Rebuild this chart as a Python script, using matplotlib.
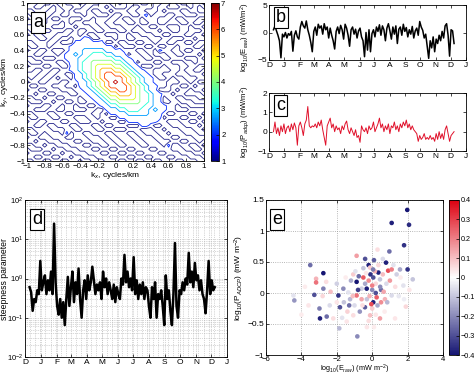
import numpy as np
import matplotlib
matplotlib.use('Agg')
import matplotlib.pyplot as plt
from matplotlib.colors import LinearSegmentedColormap, Normalize
from matplotlib.cm import ScalarMappable
from matplotlib.ticker import MultipleLocator, LogLocator, NullFormatter

################################################################################
# データ
################################################################################
# (a) 2次元スペクトル：41x41 格子（1桁 = 1段階, 0.05 cycles/km 間隔）
k_axis = np.linspace(-1, 1, 41)
# 背景のノイズ状の値（上の行が k_y = 1）
spec_background = [
    "01100010011101000110010111001001101000110",
    "11001101000110011101000100111011000110101",
    "00111001101000100110111001100010111001100",
    "10010011001110110001001100120111001100011",
    "01110100110001101110010011011100010011100",
    "11000111010110001100111001001100111001001",
    "00101100011011100110001110110011000110110",
    "10110011100100110011100100011101100110001",
    "01001110001101001100011011000110011100110",
    "11100100110110000111011001110001100011011",
    "00111001000111011000100110011011001100100",
    "10011011110001100111010001100100110111001",
    "01100100011100110001001110011021100100110",
    "11001110100110001110110011001000110011101",
    "00110001110011011001100011100110011100010",
    "10001110011100110110001100111001100011011",
    "01110011000110001101110011000110111001100",
    "11001100111001110001101110011000011011001",
    "00011001100111000111000110111001110001110",
    "10110010110010011011100110001100101100011",
    "01100111001101100100111001100111000110100",
    "10011100011000110111001100110011011001011",
    "01100111000110011000110011011100010110110",
    "11011001110011001110011011000111101100001",
    "00110110011101100011100110011000110011100",
    "10001101100100111000111001101110011000111",
    "01110011011011001110001100110001110110000",
    "11000110011000110011100111001100110001111",
    "00111001100111100100111000110111001110010",
    "10011100111000110110001110011000111001101",
    "01100111001100011011100011100111000110010",
    "11001001110011100100111000111001100011101",
    "00111100011001110011000111000110111000110",
    "10010111020110011100111001100011011100011",
    "01100011100111000110011100111001100111000",
    "11011000111001100011001110011100011001101",
    "00110110001110011001100111001110200110010",
    "10001101100011100110011001110011100011001",
    "01110011011000111001100110011100111000110",
    "11001100110110001110011001100111001110001",
    "00110011001101100011100110011001110011100",
]
# 中心の楕円部分：(行, 開始列, 値)
spec_core = [
    (9, 13, "22"),
    (10, 11, "2222222"),
    (11, 10, "2222222222"),
    (12, 10, "222333332222"),
    (13, 9, "22323344433222"),
    (14, 9, "222334444443322"),
    (15, 10, "223445555544322"),
    (16, 10, "2234456666554322"),
    (17, 10, "22344567776654322"),
    (18, 11, "22345678877654322"),
    (19, 11, "223456788887654322"),
    (20, 12, "22345678987654322"),
    (21, 12, "223456788887654322"),
    (22, 13, "22345677887654322"),
    (23, 14, "22345667776544322"),
    (24, 15, "2234556666544322"),
    (25, 16, "223445555544322"),
    (26, 17, "223344444433222"),
    (27, 18, "22233444332322"),
    (28, 19, "222233333222"),
    (29, 21, "2222222222"),
    (30, 23, "2222222"),
    (31, 26, "22"),
]

# (b)(c)(d) 時系列（12月1日からの日数）
days = np.arange(9, 373, 3)
month_days = [0, 31, 62, 90, 121, 151, 182, 212, 243, 274, 304, 335, 365, 396]
month_labels = ['D', 'J', 'F', 'M', 'A', 'M', 'J', 'J', 'A', 'S', 'O', 'N', 'D', 'J']

e_raw = [0.5, 1.2, 0.3, -0.5, -1.5, -4.6, -0.3, -0.8, 0.0, -1.0,
         -0.2, -0.5, 0.2, -3.4, -0.5, 0.3, -0.8, -1.2, 1.0, 2.0,
         1.2, 0.8, 2.1, 0.5, -0.5, -1.8, -3.5, 0.2, 1.0, -0.5,
         1.5, 0.8, 1.2, -0.3, 1.6, 0.5, 1.0, -1.0, 0.8, -0.5,
         -1.5, -3.0, 0.2, 1.0, -0.2, 1.3, 0.5, -1.2, 1.5, 0.8,
         -0.5, -2.5, 0.5, 1.0, -0.3, 0.6, -1.0, 0.3, 0.8, -0.8,
         -1.5, -4.4, 0.0, -3.2, 0.5, -3.5, -0.2, 0.5, -0.8, 1.0,
         0.2, 1.4, -0.5, 1.2, 0.5, -1.5, 0.8, 1.6, 0.3, -1.2,
         1.0, -0.3, 1.2, -2.0, 0.6, 1.0, -0.5, 1.5, 0.2, 0.9,
         -0.8, 0.5, -0.3, 1.1, -1.0, 0.3, 0.8, -0.5, 2.0, 1.0,
         0.4, -1.0, -0.3, -2.5, -4.7, -1.5, -2.8, -0.8, -3.5, -1.2,
         -2.0, -0.5, -1.5, 0.2, -1.0, 1.2, 1.6, -0.5, -4.3, 0.5,
         0.3, -2.0]

p_adcp = [0.0, 0.5, -0.1, 0.2, -0.2, 0.3, 0.0, 0.4, -0.1, 0.2,
          0.3, 0.0, 0.4, 0.1, 0.45, 0.2, -0.7, 0.3, 0.5, 0.2,
          -0.2, 0.4, 0.6, 1.3, 0.3, 0.2, 0.3, 0.25, 0.4, 0.2,
          0.5, 0.3, 0.6, 0.1, -0.3, -0.7, 0.3, 0.5, 0.7, 0.2,
          0.4, 0.0, 0.3, 0.1, 0.2, -0.1, 0.3, 0.1, 0.4, 0.55,
          0.1, -0.1, 0.2, 0.0, -0.2, 0.1, -0.3, -0.2, -0.55, 0.3,
          0.1, 0.0, 0.2, -0.1, 0.3, 0.1, 0.2, 0.5, 0.0, 0.2,
          0.4, 0.7, 0.2, 0.4, 0.0, 0.3, 0.1, 0.4, -0.1, 0.3,
          0.2, 0.5, 0.1, 0.3, 0.0, 0.4, 0.2, 0.5, 0.3, 0.6,
          0.2, 0.4, 0.1, 0.3, 0.1, 0.0, -0.1, -0.5, -0.2, -0.4,
          -0.3, -0.1, -0.4, -0.3, -0.4, -0.2, -0.4, -0.3, -0.5, -0.1,
          -0.4, 0.0, -0.35, -0.1, -0.4, 0.1, 0.3, -0.1, -0.5, -0.2,
          -0.1, 0.0]

steepness = [0.6, 0.45, 0.15, 0.3, 0.25, 0.5, 0.4, 2.8, 0.5, 0.8,
             1.2, 0.4, 0.9, 0.5, 1.5, 0.4, 25, 0.8, 0.2, 0.12,
             0.3, 0.1, 0.25, 0.065, 0.3, 1.1, 0.2, 0.6, 1.5, 0.25,
             0.8, 0.4, 1.8, 0.3, 0.1, 0.5, 0.9, 0.3, 1.2, 0.5,
             0.8, 2.0, 0.9, 0.4, 0.7, 0.5, 0.8, 0.3, 1.5, 0.6,
             1.0, 0.4, 0.8, 0.5, 0.3, 0.7, 0.25, 0.6, 0.4, 0.3,
             1.0, 0.7, 4.0, 0.8, 1.5, 0.6, 1.0, 0.5, 3.5, 0.4,
             0.9, 0.3, 0.7, 0.4, 0.8, 0.3, 0.6, 0.5, 0.2, 0.1,
             0.6, 0.3, 0.8, 0.1, 0.4, 0.3, 0.5, 0.2, 0.065, 1.2,
             0.3, 0.5, 0.15, 0.065, 0.4, 8.0, 0.2, 0.1, 0.5, 0.4,
             0.8, 0.5, 1.0, 0.7, 4.5, 0.8, 1.5, 0.6, 2.5, 0.9,
             1.2, 0.5, 0.9, 0.4, 0.3, 0.13, 0.5, 2.8, 0.4, 0.9,
             0.5, 0.6]

# (e) 散布図
sc_x = [1.98, 1.10, 2.08, 1.80, 0.97, 0.30, 2.00, 1.57, 0.78, 0.10,
        -0.20, -2.76, -3.50, -3.17, -3.17, -2.76, -3.27, -4.45, -4.40, -2.98,
        -2.95, -2.57, -1.86, -0.84, -0.88, -0.76, -0.12, 0.06, 0.35, 0.44,
        0.90, 1.10, 1.38, 2.29, 1.76, 1.90, 1.29, 0.06, -0.41, -1.25,
        -1.82, -1.63, -1.91, -2.35, -1.35, -0.88, -0.31, -0.60, 0.25, 0.72,
        1.10, -0.12, 0.44, -1.07, -2.20, -1.44, -0.50, -1.07, -0.88, -0.40,
        -0.20, 0.00, 0.20, 0.50, 0.60, 0.80, -0.60, -0.30, 0.00, 0.30,
        -1.00, -1.40, -1.60, -2.00, -2.40, -0.70, -0.20, 0.20, 0.70, 1.00,
        1.30, 1.50, -0.10, 0.15, -0.50, -1.20, -1.50, -2.00, -2.60, -3.80,
        -3.60, -4.00, -0.30, 0.10, 0.50, 0.00, 0.35, 0.60, -0.40, 0.20,
        -0.80, -1.10, 1.60, 1.80, 2.10, -0.15, 0.45, -0.55, 0.85, -1.30,
        -0.95, 0.05, -2.80, -1.70, -0.05, 0.65, -0.35, 1.20]
sc_y = [1.34, 1.13, 1.10, 0.77, 0.67, 0.70, 0.38, 0.38, 0.49, 0.53,
        0.45, 0.32, 0.45, 0.23, 0.17, 0.07, -0.03, -0.04, -0.12, -0.25,
        -0.41, -0.38, -0.57, -0.70, 0.18, 0.27, 0.41, 0.25, 0.33, 0.22,
        0.36, 0.38, 0.30, 0.22, 0.12, -0.22, -0.41, -0.15, -0.23, -0.10,
        -0.23, 0.07, -0.04, 0.02, 0.01, -0.04, 0.07, 0.07, -0.07, -0.10,
        -0.04, -0.36, -0.41, -0.36, -0.41, -0.46, 0.25, 0.30, 0.60, 0.15,
        0.20, 0.05, 0.15, 0.05, 0.30, 0.15, -0.10, -0.10, -0.25, -0.20,
        -0.20, -0.30, -0.15, -0.15, -0.20, -0.30, -0.45, -0.35, -0.30, 0.20,
        0.10, -0.05, 0.30, 0.35, 0.40, 0.20, 0.25, 0.15, 0.18, 0.10,
        -0.20, -0.35, -0.55, -0.55, -0.15, 0.12, 0.45, 0.55, 0.55, 0.00,
        0.05, -0.05, 0.25, -0.10, 0.05, -0.05, 0.10, -0.20, -0.15, -0.20,
        0.35, 0.38, -0.05, -0.40, -0.18, 0.02, 0.32, 0.45]
sc_c = [-0.40, -0.38, -0.36, -0.35, -0.25, 0.05, -0.35, -0.15, -0.38, -0.28,
        -0.38, -0.40, -0.25, 0.12, 0.22, -0.22, -0.30, -0.05, -0.18, -0.22,
        -0.38, -0.25, -0.12, -0.20, -0.40, -0.25, 0.08, -0.30, -0.38, -0.10,
        0.28, 0.20, -0.08, -0.10, -0.05, 0.06, 0.04, -0.38, -0.28, -0.12,
        -0.30, -0.20, -0.35, 0.10, -0.05, 0.22, -0.38, -0.08, 0.25, 0.12,
        -0.06, 0.10, 0.15, 0.05, 0.05, 0.04, 0.26, 0.08, 0.15, -0.15,
        0.18, -0.20, 0.06, -0.25, 0.10, -0.06, 0.14, -0.10, 0.08, -0.15,
        -0.06, 0.07, -0.10, 0.04, -0.06, -0.18, 0.05, 0.04, 0.03, 0.16,
        0.05, -0.04, -0.35, 0.12, -0.10, -0.14, 0.03, -0.08, 0.05, 0.03,
        0.04, 0.03, 0.04, 0.03, 0.18, 0.20, 0.06, -0.06, -0.30, -0.30,
        -0.33, 0.10, 0.03, -0.03, 0.04, 0.12, -0.20, 0.05, -0.12, -0.25,
        -0.05, -0.22, 0.06, -0.05, 0.28, 0.14, 0.04, -0.05]

################################################################################
# 共通設定
################################################################################
plt.rcParams['font.family'] = ['Liberation Sans', 'DejaVu Sans']
plt.rcParams['mathtext.fontset'] = 'custom'
plt.rcParams['mathtext.rm'] = 'Liberation Sans'
plt.rcParams['mathtext.it'] = 'Liberation Sans:italic'
plt.rcParams['xtick.direction'] = 'in'
plt.rcParams['ytick.direction'] = 'in'
plt.rcParams['xtick.top'] = True
plt.rcParams['ytick.right'] = True
plt.rcParams['xtick.labelsize'] = 6
plt.rcParams['ytick.labelsize'] = 6
plt.rcParams['xtick.major.size'] = 2.5
plt.rcParams['ytick.major.size'] = 2.5
plt.rcParams['xtick.major.pad'] = 1.2
plt.rcParams['ytick.major.pad'] = 1.2
plt.rcParams['axes.linewidth'] = 0.6
plt.rcParams['xtick.major.width'] = 0.5
plt.rcParams['ytick.major.width'] = 0.5

W, H = 474, 375
fig = plt.figure(figsize=(W / 100, H / 100), dpi=100)


def box(x0, y0, x1, y1):
    return [x0 / W, 1 - y1 / H, (x1 - x0) / W, (y1 - y0) / H]


def tag(ax, s):
    ax.text(0.035, 0.93, s, transform=ax.transAxes, fontsize=13, va='top', ha='left',
            bbox=dict(boxstyle='square,pad=0.12', fc='white', ec='black', lw=0.8), zorder=5)


def month_axis(ax):
    ax.set_xlim(0, 396)
    ax.set_xticks(month_days)
    ax.set_xticklabels(month_labels)


MINUS = '\u2212'

################################################################################
# (a) 等値線
################################################################################
digits = np.array([[int(ch) for ch in (row * 2)[:41]] for row in spec_background])
for r, c0, seg in spec_core:
    for j, ch in enumerate(seg):
        digits[r, c0 + j] = int(ch)
Z = (1 + digits * 2.0 / 3.0)[::-1]

ax_a = fig.add_axes(box(27, 3, 204, 161))
levels = [1.33, 2.0, 2.67, 3.33, 4.0, 4.67, 5.33, 6.0, 6.67]
norm_a = Normalize(1, 7)
jet = plt.get_cmap('jet')
line_colors = ['#23238a'] + [jet(norm_a(v)) for v in levels[1:]]
ax_a.contour(k_axis, k_axis, Z, levels=levels, colors=line_colors, linewidths=0.6)
ax_a.set_xlim(-1, 1)
ax_a.set_ylim(-1, 1)
k_ticks = np.arange(-1, 1.01, 0.2)
k_labels = [MINUS + '1', MINUS + '0.8', MINUS + '0.6', MINUS + '0.4', MINUS + '0.2', '0',
            '0.2', '0.4', '0.6', '0.8', '1']
ax_a.set_xticks(k_ticks)
ax_a.set_yticks(k_ticks)
ax_a.set_xticklabels(k_labels)
ax_a.set_yticklabels(k_labels)
ax_a.tick_params(labelsize=5.8)
ax_a.set_xlabel('k$_x$, cycles/km', fontsize=6, labelpad=0)
ax_a.set_ylabel('k$_y$, cycles/km', fontsize=6, labelpad=0)
tag(ax_a, 'a')

cax_a = fig.add_axes(box(211, 3, 219, 161))
cb_a = fig.colorbar(ScalarMappable(norm=norm_a, cmap='jet'), cax=cax_a)
cb_a.set_ticks([1, 2, 3, 4, 5, 6, 7])
cb_a.ax.tick_params(labelsize=5.5, direction='in', length=2, pad=1.5)
cb_a.outline.set_linewidth(0.6)

################################################################################
# (b) E_raw
################################################################################
ax_b = fig.add_axes(box(269, 5, 466, 60))
ax_b.plot(days, e_raw, color='black', lw=1.1)
month_axis(ax_b)
ax_b.set_ylim(-5, 5)
ax_b.set_yticks([-5, 0, 5])
ax_b.set_yticklabels([MINUS + '5', '0', '5'])
ax_b.set_ylabel('log$_{10}$(E$_{raw}$) (mW/m$^2$)', fontsize=5.5)
ax_b.yaxis.set_label_coords(-0.085, 0.42)
tag(ax_b, 'b')

################################################################################
# (c) P_adcp
################################################################################
ax_c = fig.add_axes(box(269, 93, 466, 151))
ax_c.plot(days, p_adcp, color='#e0102a', lw=0.7)
month_axis(ax_c)
ax_c.set_ylim(-1, 2)
ax_c.set_yticks([-1, 0, 1, 2])
ax_c.set_yticklabels([MINUS + '1', '0', '1', '2'])
ax_c.set_ylabel('log$_{10}$(P$_{adcp}$) (mW/m$^2$)', fontsize=5.5)
ax_c.yaxis.set_label_coords(-0.085, 0.5)
tag(ax_c, 'c')

################################################################################
# (d) steepness
################################################################################
ax_d = fig.add_axes(box(25, 200, 227, 357))
ax_d.plot(days, steepness, color='black', lw=1.8)
ax_d.set_yscale('log')
ax_d.set_ylim(1e-2, 1e2)
month_axis(ax_d)
ax_d.yaxis.set_minor_locator(LogLocator(base=10, subs=np.arange(2, 10)))
ax_d.yaxis.set_minor_formatter(NullFormatter())
ax_d.xaxis.set_minor_locator(MultipleLocator(10))
ax_d.tick_params(which='minor', length=0)
ax_d.tick_params(axis='y', labelsize=5.5)
ax_d.grid(True, which='both', ls=':', color='#b0b0b0', lw=0.5)
ax_d.set_ylabel('steepness parameter', fontsize=6.2)
ax_d.yaxis.set_label_coords(-0.078, 0.5)
tag(ax_d, 'd')

################################################################################
# (e) 散布図
################################################################################
cmap_e = LinearSegmentedColormap.from_list('bwr_m', ['#151573', '#ffffff', '#dd0010'])
ax_e = fig.add_axes(box(266, 200, 443, 355))
sc = ax_e.scatter(sc_x, sc_y, c=sc_c, cmap=cmap_e, vmin=-0.4, vmax=0.4, s=11,
                  edgecolors='none', zorder=3)
ax_e.set_xlim(-6, 4)
ax_e.set_ylim(-1, 1.5)
ax_e.set_xticks([-6, -4, -2, 0, 2, 4])
ax_e.set_xticklabels([MINUS + '6', MINUS + '4', MINUS + '2', '0', '2', '4'])
ax_e.set_yticks([-1, -0.5, 0, 0.5, 1, 1.5])
ax_e.set_yticklabels([MINUS + '1', MINUS + '0.5', '0', '0.5', '1', '1.5'])
ax_e.tick_params(axis='x', labelsize=5.6, pad=0.6)
ax_e.grid(True, ls=':', color='#a0a0a0', lw=0.6)
ax_e.set_xlabel('log$_{10}$(E$_{raw}$) (mW m$^{-2}$)', fontsize=5.2)
ax_e.xaxis.set_label_coords(0.5, -0.052)
ax_e.set_ylabel('log$_{10}$(P$_{ADCP}$) (mW m$^{-2}$)', fontsize=6, labelpad=1)
tag(ax_e, 'e')

cax_e = fig.add_axes(box(449, 200, 459, 355))
cb_e = fig.colorbar(sc, cax=cax_e)
cb_e.set_ticks([-0.4, -0.3, -0.2, -0.1, 0, 0.1, 0.2, 0.3, 0.4])
cb_e.set_ticklabels([MINUS + '0.4', MINUS + '0.3', MINUS + '0.2', MINUS + '0.1', '0',
                     '0.1', '0.2', '0.3', '0.4'])
cb_e.ax.tick_params(labelsize=5.2, direction='in', length=2, pad=1)
cb_e.outline.set_linewidth(0.6)

plt.savefig('out.png', dpi=100)
